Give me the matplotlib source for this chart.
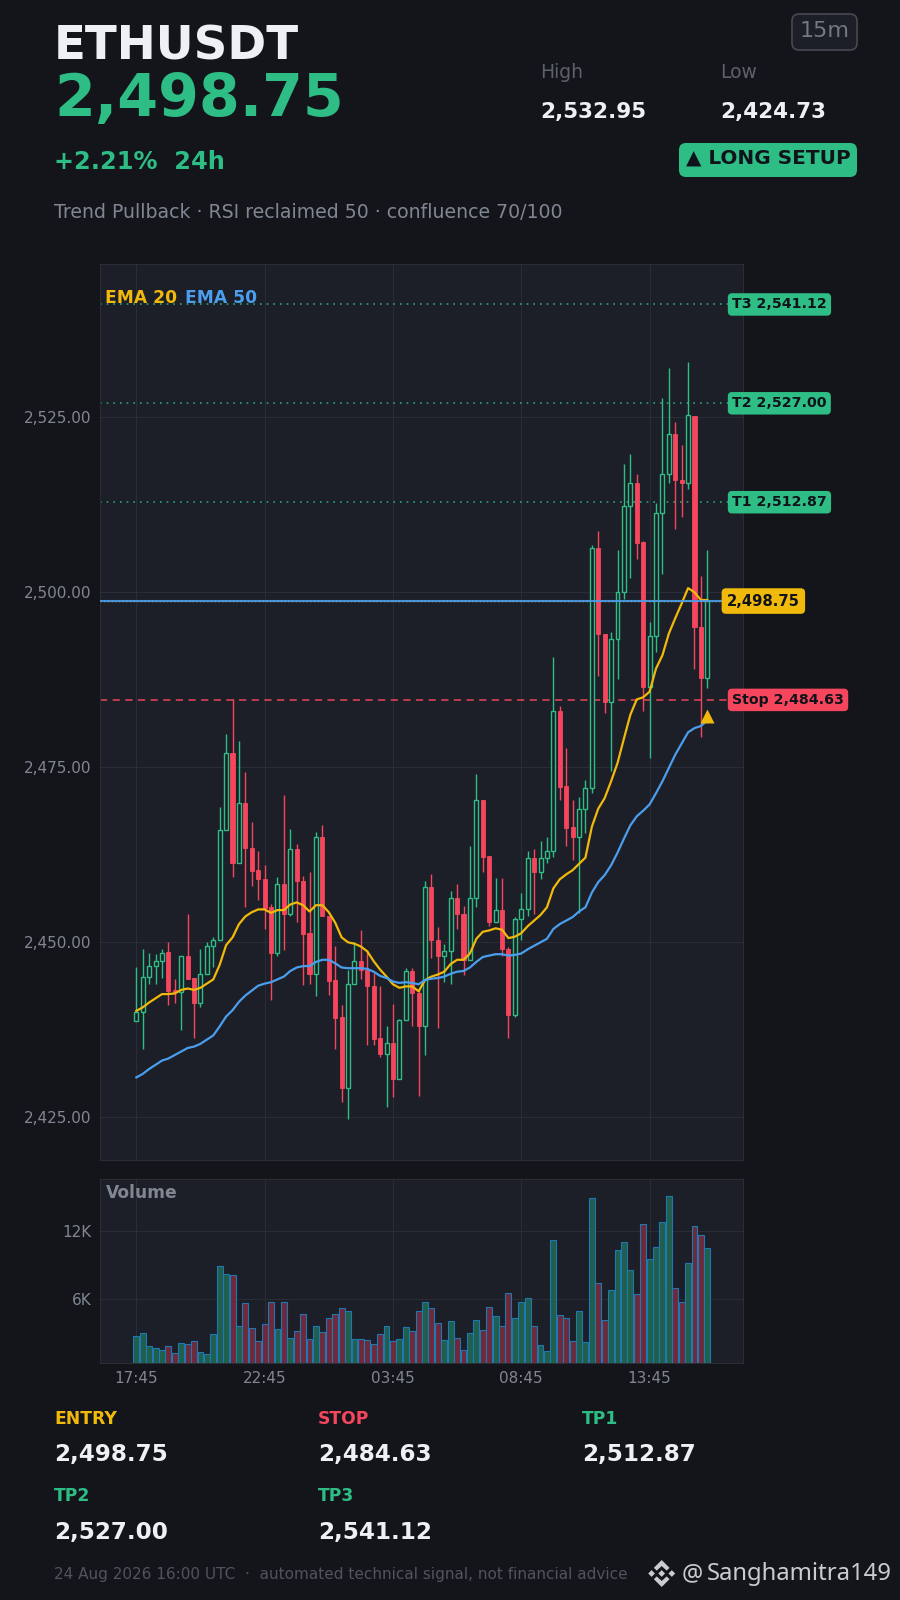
import matplotlib
matplotlib.use('Agg')
import matplotlib.pyplot as plt
from matplotlib.patches import FancyBboxPatch, Polygon

# Colours.
BG = '#13151a'
PANEL = '#1c1f27'
GRID = '#2a2d35'
GREEN = '#2ebd85'
RED = '#f6465d'
YELLOW = '#f0b90b'
BLUE = '#4a9eed'
WHITE = '#eef0f4'
MUTED = '#808793'

# Candles, one per 15 minutes.
opens = [
    2438.7, 2440.0, 2445.1, 2446.6, 2447.4, 2448.6, 2443.2, 2442.9, 2448.0, 2444.9,
    2441.4, 2445.5, 2449.5, 2450.4, 2466.1, 2477.0, 2461.3, 2469.9, 2463.5, 2460.3,
    2459.0, 2455.0, 2448.5, 2458.4, 2454.0, 2463.4, 2458.8, 2451.3, 2445.5, 2465.0,
    2453.8, 2444.6, 2439.3, 2429.2, 2444.1, 2447.4, 2446.0, 2443.7, 2436.3, 2434.0,
    2435.6, 2430.5, 2438.9, 2445.9, 2442.7, 2438.0, 2457.9, 2450.4, 2448.0, 2448.8,
    2456.4, 2454.0, 2447.5, 2456.4, 2470.3, 2462.3, 2452.9, 2454.6, 2449.1, 2439.6,
    2453.3, 2454.7, 2462.0, 2460.0, 2462.1, 2463.0, 2483.1, 2472.3, 2466.5, 2465.0,
    2469.0, 2472.1, 2506.4, 2494.1, 2484.4, 2493.4, 2500.0, 2512.4, 2515.6, 2507.2,
    2486.5, 2493.7, 2511.3, 2516.9, 2522.6, 2516.1, 2515.6, 2525.2, 2495.0, 2487.8,
]
closes = [
    2440.0, 2445.1, 2446.6, 2447.4, 2448.5, 2443.1, 2442.9, 2448.0, 2444.8, 2441.4,
    2445.5, 2449.5, 2450.4, 2466.1, 2477.0, 2461.3, 2469.9, 2463.5, 2460.2, 2459.0,
    2454.9, 2448.5, 2458.4, 2454.0, 2463.3, 2458.8, 2451.2, 2445.5, 2465.0, 2453.8,
    2444.5, 2439.2, 2429.2, 2444.1, 2447.4, 2446.0, 2443.7, 2436.2, 2434.0, 2435.6,
    2430.5, 2438.9, 2445.9, 2442.7, 2438.0, 2457.9, 2450.3, 2448.0, 2448.8, 2456.4,
    2454.0, 2447.5, 2456.4, 2470.3, 2462.2, 2452.9, 2454.6, 2449.0, 2439.6, 2453.3,
    2454.7, 2462.0, 2460.0, 2462.1, 2463.0, 2483.1, 2472.2, 2466.4, 2465.0, 2469.0,
    2472.1, 2506.4, 2494.1, 2484.4, 2493.4, 2500.0, 2512.4, 2515.6, 2507.1, 2486.5,
    2493.7, 2511.3, 2516.9, 2522.6, 2516.1, 2515.6, 2525.3, 2495.0, 2487.8, 2498.7,
]
highs = [
    2446.5, 2449.1, 2448.5, 2448.4, 2449.1, 2450.1, 2444.8, 2448.1, 2454.1, 2444.9,
    2449.0, 2450.0, 2450.7, 2469.4, 2479.7, 2484.7, 2478.8, 2474.4, 2467.2, 2463.0,
    2461.0, 2455.5, 2459.4, 2471.0, 2466.2, 2464.0, 2459.5, 2460.0, 2465.8, 2466.8,
    2453.8, 2449.5, 2441.1, 2446.0, 2450.0, 2451.7, 2448.9, 2445.6, 2443.7, 2438.0,
    2441.2, 2439.1, 2446.3, 2446.4, 2443.4, 2458.7, 2459.7, 2452.2, 2449.8, 2457.3,
    2458.4, 2455.2, 2463.7, 2474.0, 2470.3, 2462.3, 2459.2, 2459.2, 2449.3, 2453.6,
    2457.0, 2463.1, 2463.3, 2464.5, 2465.0, 2490.8, 2483.7, 2477.8, 2470.4, 2470.7,
    2473.2, 2506.8, 2508.8, 2494.1, 2494.4, 2506.1, 2518.4, 2519.8, 2516.9, 2507.4,
    2495.7, 2512.8, 2527.8, 2532.0, 2524.4, 2521.0, 2532.95, 2525.2, 2502.4, 2506.0,
]
lows = [
    2438.7, 2434.8, 2444.0, 2444.1, 2444.9, 2441.1, 2441.3, 2437.5, 2444.8, 2436.3,
    2440.7, 2445.5, 2446.5, 2450.4, 2466.1, 2459.4, 2461.3, 2455.0, 2458.1, 2456.1,
    2451.9, 2441.7, 2448.0, 2448.9, 2453.7, 2452.9, 2443.9, 2444.0, 2442.3, 2453.8,
    2442.5, 2434.8, 2427.2, 2424.73, 2444.1, 2444.7, 2435.4, 2435.3, 2433.6, 2426.5,
    2427.9, 2430.5, 2438.9, 2438.0, 2428.0, 2433.9, 2447.7, 2437.8, 2444.4, 2444.1,
    2451.9, 2445.4, 2447.5, 2455.1, 2460.0, 2452.3, 2452.9, 2448.0, 2436.3, 2439.4,
    2450.4, 2453.7, 2454.0, 2459.1, 2461.3, 2462.2, 2470.3, 2463.7, 2461.7, 2454.2,
    2465.6, 2471.3, 2488.0, 2482.7, 2474.5, 2487.6, 2499.0, 2502.0, 2504.7, 2483.0,
    2476.3, 2491.5, 2502.6, 2515.6, 2509.0, 2510.7, 2514.7, 2489.0, 2479.3, 2486.4,
]
ema20 = [
    2440.2, 2440.7, 2441.4, 2442.0, 2442.6, 2442.6, 2442.7, 2443.2, 2443.4, 2443.2,
    2443.5, 2444.1, 2444.7, 2446.8, 2449.6, 2450.7, 2452.6, 2453.7, 2454.3, 2454.7,
    2454.7, 2454.2, 2454.6, 2454.6, 2455.4, 2455.7, 2455.3, 2454.4, 2455.3, 2455.3,
    2454.3, 2452.8, 2450.7, 2450.0, 2449.8, 2449.4, 2448.7, 2447.3, 2446.1, 2445.1,
    2444.0, 2443.5, 2443.7, 2443.7, 2443.0, 2444.6, 2445.1, 2445.4, 2445.8, 2446.9,
    2447.5, 2447.5, 2448.4, 2450.5, 2451.5, 2451.7, 2452.0, 2451.8, 2450.6, 2450.8,
    2451.3, 2452.3, 2453.1, 2453.9, 2455.0, 2457.7, 2459.0, 2459.7, 2460.3, 2461.2,
    2462.1, 2466.5, 2469.1, 2470.6, 2473.0, 2475.6, 2479.1, 2482.5, 2484.7, 2485.0,
    2485.8, 2489.1, 2491.0, 2494.1, 2496.3, 2498.4, 2500.6, 2500.0, 2498.9, 2498.9,
]
ema50 = [
    2430.7, 2431.2, 2431.9, 2432.5, 2433.1, 2433.4, 2433.9, 2434.4, 2434.9, 2435.1,
    2435.5, 2436.1, 2436.7, 2438.0, 2439.4, 2440.3, 2441.5, 2442.4, 2443.1, 2443.8,
    2444.1, 2444.3, 2444.7, 2445.1, 2445.9, 2446.4, 2446.6, 2446.6, 2447.2, 2447.5,
    2447.5, 2447.0, 2446.4, 2446.3, 2446.3, 2446.3, 2446.2, 2445.8, 2445.2, 2444.9,
    2444.4, 2444.2, 2444.3, 2444.2, 2444.0, 2444.6, 2444.8, 2444.9, 2445.1, 2445.5,
    2445.8, 2445.9, 2446.4, 2447.2, 2447.9, 2448.1, 2448.3, 2448.3, 2448.1, 2448.2,
    2448.4, 2449.0, 2449.5, 2450.0, 2450.5, 2451.9, 2452.6, 2453.1, 2453.6, 2454.4,
    2455.0, 2457.1, 2458.6, 2459.6, 2461.0, 2462.8, 2464.8, 2466.7, 2468.0, 2468.8,
    2469.7, 2471.3, 2473.0, 2474.9, 2476.8, 2478.4, 2480.0, 2480.6, 2480.9, 2481.7,
]
volumes = [
    2735, 3000, 1853, 1677, 1500, 1853, 1236, 2118, 2030, 2294,
    1324, 1147, 2912, 8912, 8206, 8118, 3618, 5647, 3441, 2294,
    3794, 5735, 3353, 5735, 2559, 3177, 4677, 2471, 3618, 3088,
    4324, 4677, 5206, 4941, 2471, 2471, 2383, 2030, 2912, 3618,
    2294, 2471, 3530, 3177, 4941, 5735, 5206, 3882, 2383, 4059,
    2559, 1500, 3000, 4147, 3265, 5294, 4500, 3618, 6529, 4324,
    5735, 6088, 3618, 1941, 1412, 11206, 4588, 4324, 2294, 4941,
    2206, 14911, 7412, 4147, 6794, 10323, 11029, 8559, 6441, 12617,
    9529, 10588, 12794, 15088, 6971, 5735, 9176, 12441, 11647, 10500,
]

# Trade levels and ticks.
level_names = ['T3', 'T2', 'T1']
level_prices = [2541.12, 2527.00, 2512.87]
entry_price = 2498.75
stop_price = 2484.63
signal_price = 2482.4
price_ticks = [2425, 2450, 2475, 2500, 2525]
volume_ticks = [6000, 12000]
volume_tick_labels = ['6K', '12K']
time_ticks = [0, 20, 40, 60, 80]
time_labels = ['17:45', '22:45', '03:45', '08:45', '13:45']

stat_names = ['ENTRY', 'STOP', 'TP1', 'TP2', 'TP3']
stat_values = ['2,498.75', '2,484.63', '2,512.87', '2,527.00', '2,541.12']
stat_colors = [YELLOW, RED, GREEN, GREEN, GREEN]

xs = list(range(len(closes)))
is_up = [c >= o for o, c in zip(opens, closes)]

W, H = 900, 1600
fig = plt.figure(figsize=(9, 16), dpi=100, facecolor=BG)


def px_axes(left, top, right, bottom):
    return fig.add_axes([left / W, 1 - bottom / H, (right - left) / W, (bottom - top) / H])


def style_panel(ax):
    ax.set_facecolor(PANEL)
    ax.set_axisbelow(True)
    ax.grid(True, color=GRID, linewidth=0.8)
    for spine in ax.spines.values():
        spine.set_color(GRID)
    ax.tick_params(length=0, colors=MUTED, labelsize=11)
    ax.set_xlim(-5.66, 94.56)


# Price panel.
ax = px_axes(100, 264, 743, 1160)
style_panel(ax)
ax.set_ylim(2418.9, 2546.9)
ax.set_yticks(price_ticks)
ax.set_yticklabels([f'{p:,.2f}' for p in price_ticks])
ax.set_xticks(time_ticks)
ax.tick_params(labelbottom=False, pad=6)

for i in xs:
    color = GREEN if is_up[i] else RED
    ax.vlines(i, lows[i], highs[i], color=color, linewidth=1.0, zorder=3)
    low_body = min(opens[i], closes[i])
    height = abs(closes[i] - opens[i])
    if is_up[i]:
        ax.bar(i, height, bottom=low_body, width=0.62, facecolor=PANEL,
               edgecolor=color, linewidth=1.0, zorder=4)
    else:
        ax.bar(i, height, bottom=low_body, width=0.64, facecolor=color,
               edgecolor=color, linewidth=0.6, zorder=4)

ax.plot(xs, ema20, color=YELLOW, linewidth=1.6, zorder=5)
ax.plot(xs, ema50, color=BLUE, linewidth=1.6, zorder=5)

# Level lines and their tags.
tag_style = dict(xycoords=ax.get_yaxis_transform(), va='center', ha='left',
                 fontweight='bold', color='#10131a', annotation_clip=False, zorder=9)
for name, price in zip(level_names, level_prices):
    ax.axhline(price, color=GREEN, linewidth=1.2, linestyle=(0, (1, 3)), alpha=0.85, zorder=2)
    ax.annotate(f'{name} {price:,.2f}', (0.983, price), fontsize=10.2,
                bbox=dict(boxstyle='round,pad=0.3,rounding_size=0.3', fc=GREEN, ec='none'), **tag_style)
ax.axhline(entry_price, color=YELLOW, linewidth=1, linestyle=':', zorder=2)
ax.axhline(entry_price, color=BLUE, linewidth=1.5, alpha=0.9, zorder=6)
ax.axhline(stop_price, color=RED, linewidth=1.3, linestyle=(0, (4, 3)), alpha=0.8, zorder=2)
ax.annotate(f'{entry_price:,.2f}', (0.975, entry_price), fontsize=10.6,
            bbox=dict(boxstyle='round,pad=0.36,rounding_size=0.3', fc=YELLOW, ec='none'), **tag_style)
ax.annotate(f'Stop {stop_price:,.2f}', (0.983, stop_price), fontsize=10.2,
            bbox=dict(boxstyle='round,pad=0.3,rounding_size=0.3', fc=RED, ec='none'), **tag_style)

ax.plot([xs[-1]], [signal_price], marker='^', color=YELLOW, markersize=9.5,
        markeredgecolor='none', zorder=8)

ax.text(0.0085, 0.962, 'EMA 20', transform=ax.transAxes, color=YELLOW, fontsize=12.3,
        fontweight='bold', va='center', zorder=9)
ax.text(0.1325, 0.962, 'EMA 50', transform=ax.transAxes, color=BLUE, fontsize=12.3,
        fontweight='bold', va='center', zorder=9)

# Volume panel.
vol = px_axes(100, 1179, 743, 1363)
style_panel(vol)
vol.set_ylim(353, 16588)
vol.set_yticks(volume_ticks)
vol.set_yticklabels(volume_tick_labels)
vol.set_xticks(time_ticks)
vol.set_xticklabels(time_labels)
vol.tick_params(pad=6)
vol.bar(xs, volumes, width=0.92, color=['#1f5f4c' if up else '#6e2a3a' for up in is_up],
        edgecolor='#1f77b4', linewidth=0.8, zorder=3)
vol.text(0.0085, 0.925, 'Volume', transform=vol.transAxes, color=MUTED, fontsize=12.3,
         fontweight='bold', va='center', zorder=5)

# Everything outside the panels sits on a full figure overlay in pixels.
top = fig.add_axes([0, 0, 1, 1], facecolor='none')
top.set_xlim(0, W)
top.set_ylim(H, 0)
top.axis('off')


def box(x0, y0, x1, y1, fc, ec='none', r=7):
    top.add_patch(FancyBboxPatch((x0 + r, y0 + r), x1 - x0 - 2 * r, y1 - y0 - 2 * r,
                                 boxstyle=f'round,pad={r},rounding_size={r}', fc=fc, ec=ec, lw=1.2))


top.text(54, 60, 'ETHUSDT', color=WHITE, fontsize=33.7, fontweight='bold', va='baseline')
top.text(54, 116.5, '2,498.75', color=GREEN, fontsize=42.3, fontweight='bold', va='baseline')
top.text(54, 162, '+2.21%  24h', color=GREEN, fontsize=17.3, fontweight='bold', va='center')
top.text(54, 212.5, 'Trend Pullback · RSI reclaimed 50 · confluence 70/100', color='#808793',
         fontsize=13.6, va='center')

top.text(540, 72, 'High', color='#5c616c', fontsize=13.5, va='center')
top.text(720, 72, 'Low', color='#5c616c', fontsize=13.5, va='center')
top.text(540, 112, '2,532.95', color=WHITE, fontsize=15.5, fontweight='bold', va='center')
top.text(720, 112, '2,424.73', color=WHITE, fontsize=15.5, fontweight='bold', va='center')

box(792, 14, 857, 50, PANEL, ec='#454953')
top.text(824.5, 31, '15m', color='#727884', fontsize=16, ha='center', va='center')
box(679, 143, 857, 177, GREEN)
top.text(768, 158.5, '▲ LONG SETUP', color='#10131a', fontsize=14.4, fontweight='bold',
         ha='center', va='center')

stat_x = [54, 318, 582, 54, 318]
stat_label_y = [1419, 1419, 1419, 1496, 1496]
stat_value_y = [1455, 1455, 1455, 1532, 1532]
for i in range(5):
    top.text(stat_x[i], stat_label_y[i], stat_names[i], color=stat_colors[i], fontsize=12.3,
             fontweight='bold', va='center')
    top.text(stat_x[i], stat_value_y[i], stat_values[i], color=WHITE, fontsize=16.6,
             fontweight='bold', va='center')

top.text(54, 1574, '24 Aug 2026 16:00 UTC  ·  automated technical signal, not financial advice',
         color='#50545e', fontsize=11, va='center')

# Watermark logo.
logo_x, logo_y, s = 661.7, 1573.5, 13.5 / 12
mark = '#c9cbd1'
shapes = [
    [(0, -12), (7, -5), (4.4, -2.6), (0, -6.6), (-4.4, -2.6), (-7, -5)],
    [(0, 12), (7, 5), (4.4, 2.6), (0, 6.6), (-4.4, 2.6), (-7, 5)],
    [(0, -3), (3, 0), (0, 3), (-3, 0)],
    [(-9, -3), (-6, 0), (-9, 3), (-12, 0)],
    [(9, -3), (12, 0), (9, 3), (6, 0)],
]
for shape in shapes:
    top.add_patch(Polygon([(logo_x + dx * s, logo_y + dy * s) for dx, dy in shape], fc=mark, ec='none'))
top.text(682, 1574, '@', color=mark, fontsize=17, family='Noto Sans', va='center')
top.text(707, 1574, 'Sanghamitra149', color=mark, fontsize=17.2, family='Noto Sans', va='center')

fig.savefig('out.png', dpi=100, facecolor=BG)
